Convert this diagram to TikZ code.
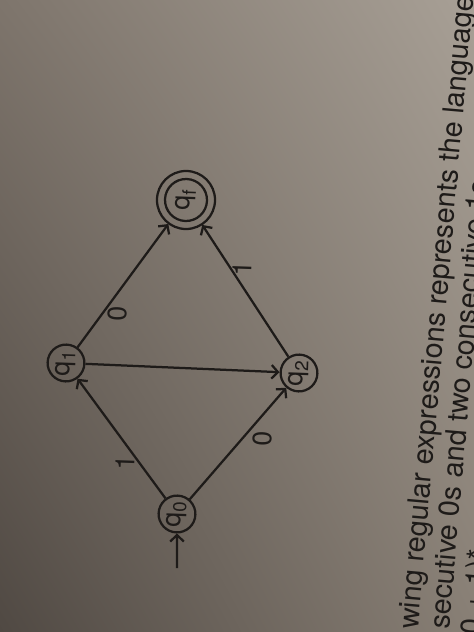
\documentclass[tikz,border=0pt]{standalone}
\usepackage{fontspec}
\setmainfont{TeX Gyre Heros}
\usetikzlibrary{arrows.meta, shadings}

\definecolor{ink}{RGB}{30,27,25}
\definecolor{paperUL}{RGB}{126,117,108}
\definecolor{paperUR}{RGB}{168,160,150}
\definecolor{paperLL}{RGB}{80,73,67}
\definecolor{paperLR}{RGB}{136,127,117}

\begin{document}
\begin{tikzpicture}[x = 0.025cm, y = -0.025cm, line width = 1.6pt,
                      state/.style = {circle, draw = ink, text = ink, minimum size = 0.92cm, inner sep = 0pt,
                                      rotate = 88, font = \fontsize{19}{19}\selectfont},
                      final/.style = {state, minimum size = 1.05cm, outer sep = 0.22cm},
                      edge/.style = {draw = ink, -{Straight Barb[length = 1.6mm, width = 3.4mm]}},
                      lbl/.style = {text = ink, rotate = 88, font = \fontsize{19}{19}\selectfont},
                      body/.style = {text = ink, rotate = 85, anchor = base west, inner sep = 0pt,
                                     font = \fontsize{20.5}{21}\selectfont}]
    \useasboundingbox (0, 0) rectangle (474, 632);
    \clip (0, 0) rectangle (474, 632);
    \shade [upper left = paperUL, upper right = paperUR, lower left = paperLL, lower right = paperLR]
        (0, 0) rectangle (474, 632);

    \node [state] (q0) at (177, 514){q\textsubscript{0}};
    \node [state] (q1) at (66, 363){q\textsubscript{1}};
    \node [state] (q2) at (299, 373){q\textsubscript{2}};
    \node [final] (qf) at (186, 200){q\textsubscript{f}};
    \draw [ink] (qf.center) circle (0.725cm);
    \coordinate (start) at (177, 568);

    \draw [edge] (start) -- (q0);
    \draw [edge] (q0) -- node [lbl, xshift = -0.6cm, yshift = -0.12cm] (l1) {1} (q1);
    \draw [edge] (q0) -- node [lbl, xshift = 0.15cm, yshift = -0.6cm] (l2) {0} (q2);
    \draw [edge] (q1) -- (q2);
    \draw [edge] (q1) -- node [lbl, xshift = -0.7cm, yshift = 0.11cm] (l3) {0} (qf);
    \draw [edge] (q2) -- node [lbl, xshift = 0.56cm, yshift = 0.09cm] (l4) {1} (qf);

    \node [body] (line1) at (418, 631) {wing regular expressions represents the language};
    \node [body] (line2) at (449, 631) {secutive 0s and two consecutive 1s};
    \node [body] (line3) at (480, 646) {(0 + 1)*};
\end{tikzpicture}
\end{document}
